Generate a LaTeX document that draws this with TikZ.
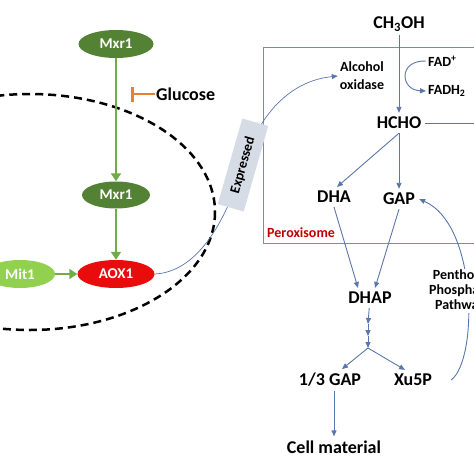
\documentclass[tikz,border=0pt]{standalone}
\usepackage{fontspec}
\setmainfont{Carlito}
\usetikzlibrary{shapes.geometric, arrows.meta}

\definecolor{mxrgreen}{RGB}{84,130,53}
\definecolor{mitgreen}{RGB}{146,208,80}
\definecolor{aoxred}{RGB}{232,12,12}
\definecolor{siggreen}{RGB}{112,173,71}
\definecolor{inhorange}{RGB}{237,125,49}
\definecolor{flowblue}{RGB}{90,118,172}
\definecolor{boxline}{RGB}{120,140,175}
\definecolor{exprfill}{RGB}{214,220,229}
\definecolor{perred}{RGB}{192,0,0}

\begin{document}
\begin{tikzpicture}[x=1pt, y=-1pt, >={Triangle[length=6pt, width=5pt]}]
% --- Global Styles ---
\tikzstyle{gene} = [ellipse, inner sep=0pt, minimum width=75pt, minimum height=28pt, text=white, font=\fontsize{15}{17}\selectfont\bfseries]
\tikzstyle{met} = [inner sep=4pt, font=\fontsize{18}{20}\selectfont\bfseries]
\tikzstyle{small} = [inner sep=2pt, align=center, font=\fontsize{14}{17}\selectfont\bfseries]
\tikzstyle{flow} = [->, draw=flowblue, line width=0.9pt]
\tikzstyle{signal} = [-{Triangle[length=8pt, width=10pt]}, draw=siggreen, line width=2.7pt]
\tikzstyle{inhibit} = [-{Bar[width=15pt]}, draw=inhorange, line width=2.5pt]
\tikzstyle{cell} = [dash pattern=on 8pt off 5pt, line width=2.5pt]

% --- Frame (pixel grid of the figure) ---
\useasboundingbox (0,0) rectangle (474,474);
\clip (0,0) rectangle (474,474);

% ==========================================
% LEFT: Regulation of AOX1
% ==========================================
% Cell (dashed)
\draw[cell] (30,212) ellipse [x radius=185, y radius=118];

\node[gene, fill=mxrgreen] (mxrTop) at (116,44) {Mxr1};
\node[gene, fill=mxrgreen, minimum width=68pt, minimum height=27pt] (mxrBot) at (116,195) {Mxr1};
\node[gene, fill=aoxred, minimum width=77pt] (aox) at (116,274) {AOX1};
\node[gene, fill=mitgreen, minimum width=70pt] (mit) at (20,274) {Mit1};

\node[met, inner sep=1pt, anchor=west] (glucose) at (155,94) {Glucose};
\coordinate (glucBar) at (131,94);

\draw[signal] (mxrTop) -- (mxrBot);
\draw[signal] (mxrBot) -- (aox);
\draw[signal] (mit) -- (aox);
\draw[inhibit] (glucose.west) -- (glucBar);

% ==========================================
% RIGHT: Methanol metabolism
% ==========================================
% Peroxisome box, runs off the right edge
\draw[boxline, line width=0.8pt] (263,47) rectangle (490,243);
\node[small, text=perred, anchor=west] (perox) at (265,233) {Peroxisome};

\node[met] (ch3oh) at (399,24) {CH\textsubscript{3}OH};
\node[small] (alcox) at (362,76) {Alcohol\\[1pt]oxidase};
\node[small, anchor=west] (fad) at (426,61) {FAD\textsuperscript{+}};
\node[small, anchor=west] (fadh) at (426,91) {FADH\textsubscript{2}};
\node[met] (hcho) at (399,123) {HCHO};
\node[met] (dha) at (334,197) {DHA};
\node[met] (gap) at (399,199) {GAP};
\node[met] (dhap) at (370,298) {DHAP};
\node[met] (gap13) at (330,380) {1/3 GAP};
\node[met] (xu5p) at (413,380) {Xu5P};
\node[met] (cellmat) at (334,447) {Cell material};

\coordinate (hchoOut) at (480,123);
\coordinate (dhapA) at (368,324);
\coordinate (dhapB) at (368,336);
\coordinate (split) at (368,348);

% AOX1 expression, passes under the label box
\draw[flowblue, line width=0.7pt] (aox.east) .. controls (200,272) and (228,215) .. (243,165);
\draw[flow, line width=0.7pt] (243,165) .. controls (253.5,130) and (280,82) .. (alcox.west);
\node[small, rotate=74, fill=exprfill, minimum width=89pt, minimum height=27pt] (expr) at (243,165) {Expressed};

\draw[flow] (ch3oh) -- (hcho);
\draw[flow] (fad.west) .. controls (398,60) and (400,90) .. (fadh.west);
\draw[flowblue, line width=0.9pt] (hcho.east) -- (hchoOut);
\draw[flow] (hcho.south) -- ([xshift=3pt]dha.north);
\draw[flow] (hcho) -- (gap);
\draw[flow] (dha.south) -- ([xshift=-12pt]dhap.north);
\draw[flow] (gap.south) -- ([xshift=5pt]dhap.north);
\draw[flow] (dhap) -- (dhapA);
\draw[flow] (dhapA) -- (dhapB);
\draw[flow] (dhapB) -- (split);
\draw[flow] (split) -- ([xshift=12pt]gap13.north);
\draw[flow] (split) -- ([xshift=-8pt]xu5p.north);
\draw[flow] (gap13.south -| cellmat.north) -- (cellmat.north);

% Pentose phosphate loop
\draw[flow] ([xshift=15pt]xu5p.east) .. controls (478,360) and (478,225) .. (gap.east);
\node[small, fill=white, inner sep=1pt] (ppp) at (460,291) {Penthose\\[-2pt]Phosphate\\[-2pt]Pathway};

\end{tikzpicture}
\end{document}
